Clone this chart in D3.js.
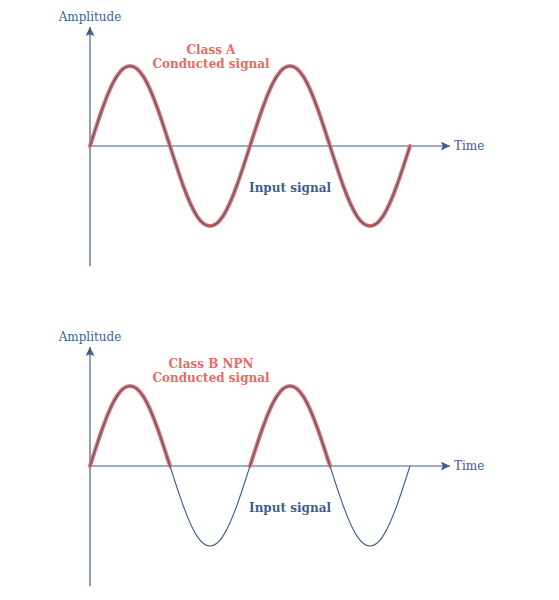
<!DOCTYPE html>
<html>
<head>
<meta charset="utf-8">
<script src="https://cdn.jsdelivr.net/npm/d3@7"></script>
<style>
 body { margin: 0; background: #fff; }
 text { font-family: "DejaVu Serif", serif; font-size: 12px; }
</style>
</head>
<body>
<div class="featured"></div>
<script>
// time steps (1/12 of a period each), two full periods
var times = [0,1,2,3,4,5,6,7,8,9,10,11,12,13,14,15,16,17,18,19,20,21,22,23,24];
var inputSignal = [0,0.5,0.87,1,0.87,0.5,0,-0.5,-0.87,-1,-0.87,-0.5,0,0.5,0.87,1,0.87,0.5,0,-0.5,-0.87,-1,-0.87,-0.5,0];
var classA = [0,0.5,0.87,1,0.87,0.5,0,-0.5,-0.87,-1,-0.87,-0.5,0,0.5,0.87,1,0.87,0.5,0,-0.5,-0.87,-1,-0.87,-0.5,0];
var classB = [0,0.5,0.87,1,0.87,0.5,0,null,null,null,null,null,0,0.5,0.87,1,0.87,0.5,0,null,null,null,null,null,null];

var panels = [
  {title: ["Class A", "Conducted signal"], conducted: classA, top: 0, titleY: 54},
  {title: ["Class B NPN", "Conducted signal"], conducted: classB, top: 320, titleY: 368}
];

var blue = "#3b5f8e";
var red = "#ea6a66";

var svg = d3.select(".featured").append("svg")
     .attr("width", 559)
     .attr("height", 600);

var defs = svg.append("defs");
defs.append("marker")
   .attr("id", "arrow")
   .attr("viewBox", "0 0 10 10")
   .attr("refX", 10)
   .attr("refY", 5)
   .attr("markerUnits", "userSpaceOnUse")
   .attr("markerWidth", 9)
   .attr("markerHeight", 9)
   .attr("orient", "auto")
  .append("path")
   .attr("d", "M0,0 L10,5 L0,10 L2,5 Z")
   .attr("fill", blue);

var x = d3.scaleLinear().domain([0, 27]).range([90, 450]);

panels.forEach(function(p) {
  var y = d3.scaleLinear().domain([-1.5, 1.5]).range([p.top + 266, p.top + 26]);
  var g = svg.append("g");

  // axes
  g.append("line")
   .attr("x1", x(0)).attr("x2", x(27))
   .attr("y1", y(0)).attr("y2", y(0))
   .attr("stroke", blue).attr("stroke-width", 1.2)
   .attr("marker-end", "url(#arrow)");
  g.append("line")
   .attr("x1", x(0)).attr("x2", x(0))
   .attr("y1", y(-1.5)).attr("y2", p.top + 27)
   .attr("stroke", blue).attr("stroke-width", 1.2)
   .attr("marker-end", "url(#arrow)");

  g.append("text")
   .attr("x", x(0)).attr("y", p.top + 21)
   .attr("text-anchor", "middle")
   .attr("fill", blue)
   .text("Amplitude");
  g.append("text")
   .attr("x", x(27) + 4).attr("y", y(0) + 4)
   .attr("fill", blue)
   .text("Time");

  var line = d3.line()
     .defined(function(d) { return d[1] !== null; })
     .x(function(d) { return x(d[0]); })
     .y(function(d) { return y(d[1]); })
     .curve(d3.curveNatural);

  // conducted signal (thick red) then input signal (thin blue) on top
  var cond = [], inp = [];
  times.forEach(function(t, i) {
    cond.push([t, p.conducted[i]]);
    inp.push([t, inputSignal[i]]);
  });
  // split conducted into defined runs so natural curve is fitted per run
  var runs = [], cur = [];
  cond.forEach(function(d) {
    if (d[1] === null) { if (cur.length) runs.push(cur); cur = []; }
    else cur.push(d);
  });
  if (cur.length) runs.push(cur);
  runs.forEach(function(r) {
    g.append("path")
     .attr("d", line(r))
     .attr("fill", "none")
     .attr("stroke", red)
     .attr("stroke-width", 4)
     .attr("stroke-linecap", "round");
  });
  g.append("path")
   .attr("d", line(inp))
   .attr("fill", "none")
   .attr("stroke", blue)
   .attr("stroke-width", 1.1);

  g.append("text")
   .attr("x", 211).attr("y", p.titleY)
   .attr("text-anchor", "middle")
   .attr("font-weight", "bold")
   .attr("fill", red)
   .selectAll("tspan").data(p.title).enter().append("tspan")
   .attr("x", 211)
   .attr("dy", function(d, i) { return i ? 14 : 0; })
   .text(function(d) { return d; });

  g.append("text")
   .attr("x", 290).attr("y", p.top + 192)
   .attr("text-anchor", "middle")
   .attr("font-weight", "bold")
   .attr("fill", blue)
   .text("Input signal");
});
</script>
</body>
</html>
